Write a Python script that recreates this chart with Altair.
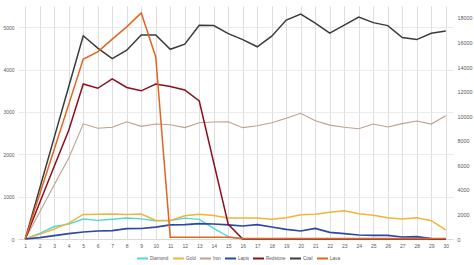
import altair as alt
import pandas as pd

# Layer numbers along the x axis
layers = list(range(1, 31))

# Block counts per layer for each ore
diamond = [0, 134, 295, 350, 472, 441, 465, 496, 476, 430, 437, 492, 465, 252, 55,
           0, 0, 0, 0, 0, 0, 0, 0, 0, 0, 0, 0, 0, 0, 0]
gold = [0, 110, 235, 375, 580, 585, 590, 578, 588, 437, 437, 551, 583, 555, 496,
        496, 496, 465, 504, 575, 583, 630, 669, 598, 559, 504, 472, 504, 433, 213]
iron = [0, 640, 1280, 1910, 2720, 2615, 2640, 2770, 2660, 2715, 2700, 2630, 2745, 2765, 2770,
        2630, 2675, 2745, 2850, 2970, 2795, 2690, 2640, 2605, 2715, 2645, 2725, 2785, 2715, 2910]
lapis = [0, 31, 79, 126, 165, 189, 197, 244, 248, 280, 335, 338, 362, 354, 335,
         307, 339, 283, 228, 189, 252, 157, 126, 94, 86, 86, 47, 55, 8, 0]
redstone = [0, 860, 1720, 2570, 3660, 3560, 3780, 3580, 3500, 3660, 3600, 3520, 3260, 1800, 345,
            0, 0, 0, 0, 0, 0, 0, 0, 0, 0, 0, 0, 0, 0, 0]
coal = [0, 1200, 2400, 3600, 4800, 4510, 4260, 4460, 4820, 4820, 4480, 4600, 5050, 5040, 4850,
        4710, 4540, 4790, 5170, 5310, 5100, 4860, 5050, 5240, 5110, 5040, 4760, 4710, 4860, 4910]
lava = [0, 1060, 2120, 3180, 4250, 4420, 4720, 5010, 5340, 4300, 40, 40, 40, 40, 40,
        10, 10, 10, 10, 10, 10, 10, 10, 10, 10, 10, 10, 10, 10, 10]

ores = ["Diamond", "Gold", "Iron", "Lapis", "Redstone", "Coal", "Lava"]
colors = ["#4fd8d8", "#f2b33d", "#bda08e", "#2a48a6", "#8c0f1e", "#3b3b3b", "#e2641f"]
widths = [1.4, 1.5, 1.1, 1.7, 1.5, 1.5, 1.5]

# Tick labels for both value axes
left_ticks = [0, 1000, 2000, 3000, 4000, 5000]
right_ticks = [0, 2000, 4000, 6000, 8000, 10000, 12000, 14000, 16000, 18000]

series = dict(zip(ores, [diamond, gold, iron, lapis, redstone, coal, lava]))
df = pd.DataFrame(
    [{"Layer": x, "Ore": name, "Count": v}
     for name, vals in series.items()
     for x, v in zip(layers, vals)]
)

FONT = "Liberation Sans"
LABEL = "#595959"

x_enc = alt.X(
    "Layer:O",
    scale=alt.Scale(type="point", padding=0.5),
    axis=alt.Axis(
        title=None, labelAngle=0, labelFontSize=5, labelColor=LABEL, labelFont=FONT,
        ticks=False, domain=True, domainColor="#d9d9d9", labelPadding=4,
        grid=True, gridColor="#d6d6d6", gridWidth=0.8,
    ),
)

y_enc = alt.Y(
    "Count:Q",
    scale=alt.Scale(domain=[0, 5503], nice=False),
    axis=alt.Axis(
        title=None, values=left_ticks, format="d", labelFontSize=5, labelColor=LABEL,
        labelFont=FONT, ticks=False, domain=False, grid=True, gridColor="#e6e6e6",
        gridWidth=0.8, labelPadding=4,
    ),
)

color_enc = alt.Color(
    "Ore:N",
    sort=ores,
    scale=alt.Scale(domain=ores, range=colors),
    legend=alt.Legend(
        title=None, orient="none", legendX=118, legendY=246, direction="horizontal",
        symbolType="stroke", symbolStrokeWidth=2, symbolSize=121,
        labelFontSize=4.6, labelColor=LABEL, labelFont=FONT,
        columnPadding=0, labelOffset=1, gridAlign="none",
    ),
)

# One line layer per ore, drawn in legend order so Lava ends up on top
line_layers = [
    alt.Chart(df)
    .transform_filter(alt.datum.Ore == name)
    .mark_line(strokeWidth=w, strokeJoin="miter")
    .encode(x=x_enc, y=y_enc, color=color_enc)
    for name, w in zip(ores, widths)
]
lines = alt.layer(*line_layers)

# Secondary value axis on the right-hand side
right = alt.Chart(pd.DataFrame({"v": [0]})).mark_point(opacity=0).encode(
    y=alt.Y(
        "v:Q",
        scale=alt.Scale(domain=[0, 18974], nice=False),
        axis=alt.Axis(
            orient="right", title=None, values=right_ticks, format="d", labelFontSize=5.4,
            labelColor=LABEL, labelFont=FONT, ticks=False, domain=False, grid=False,
            labelPadding=4,
        ),
    )
)

chart = (
    alt.layer(lines, right)
    .resolve_scale(y="independent")
    .properties(
        width=435, height=233,
        autosize=alt.AutoSizeParams(type="none"),
        padding={"left": 18, "top": 6, "right": 21, "bottom": 26},
        background="white",
    )
    .configure_view(stroke=None)
)

chart.save("out.html", embed_options={"renderer": "svg", "actions": False})
